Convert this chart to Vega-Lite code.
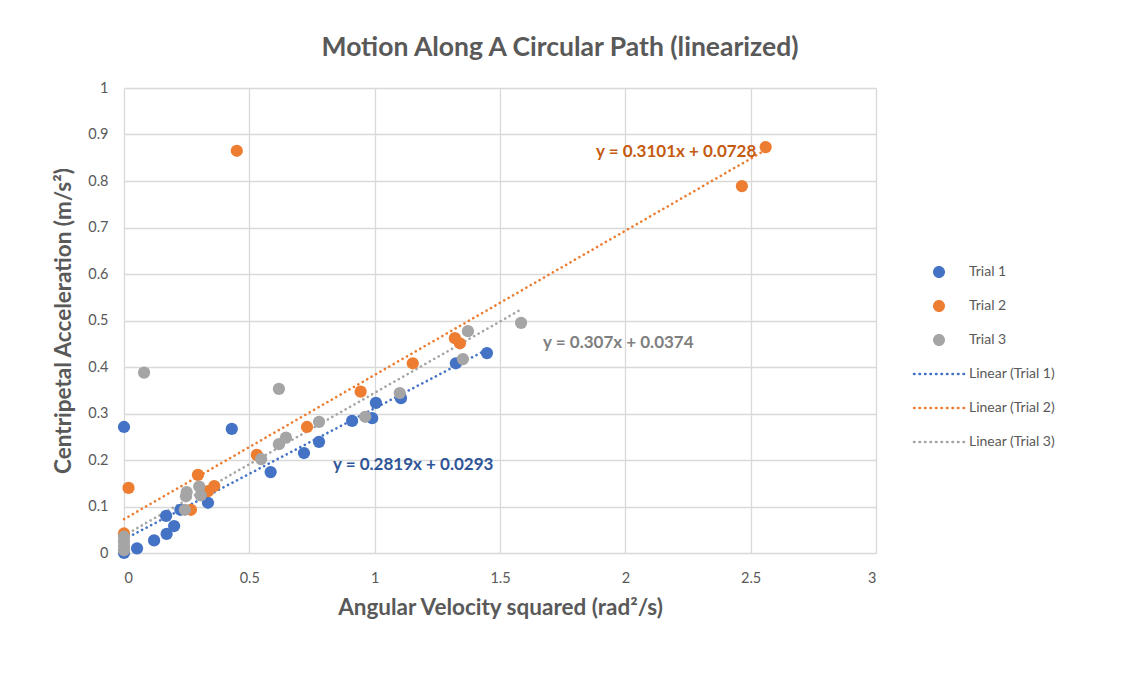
{
  "$schema": "https://vega.github.io/schema/vega-lite/v6.json",
  "width": 752,
  "height": 465,
  "autosize": {"type": "none"},
  "padding": {"left": 124, "top": 88, "right": 264, "bottom": 131},
  "background": "white",
  "title": {
    "text": "Motion Along A Circular Path (linearized)",
    "font": "Lato",
    "fontSize": 26.5,
    "fontWeight": "bold",
    "color": "#595959",
    "anchor": "middle",
    "dx": 60,
    "offset": 19
  },
  "config": {
    "font": "Lato",
    "view": {"stroke": null},
    "axis": {
      "labelFont": "Lato",
      "labelFontSize": 14.5,
      "labelColor": "#595959",
      "titleFont": "Lato",
      "titleFontSize": 22.5,
      "titleFontWeight": "bold",
      "titleColor": "#595959",
      "gridColor": "#D9D9D9",
      "gridWidth": 1.3,
      "domain": false,
      "ticks": false
    },
    "legend": {
      "orient": "none",
      "legendX": 808,
      "legendY": 177,
      "labelFont": "Lato",
      "labelFontSize": 14,
      "labelColor": "#595959",
      "symbolSize": 2500,
      "rowPadding": 20,
      "labelOffset": 23,
      "symbolType": "stroke",
      "symbolStrokeWidth": 2.6,
      "symbolDash": [0.5, 5],
      "symbolOpacity": 1
    }
  },
  "datasets": {
    "points": [
      {"series": "Trial 1", "x": 0, "y": 0.271},
      {"series": "Trial 1", "x": 0.0, "y": 0.0},
      {"series": "Trial 1", "x": 0.052, "y": 0.01},
      {"series": "Trial 1", "x": 0.12, "y": 0.027},
      {"series": "Trial 1", "x": 0.17, "y": 0.041},
      {"series": "Trial 1", "x": 0.168, "y": 0.08},
      {"series": "Trial 1", "x": 0.2, "y": 0.058},
      {"series": "Trial 1", "x": 0.225, "y": 0.093},
      {"series": "Trial 1", "x": 0.335, "y": 0.108},
      {"series": "Trial 1", "x": 0.43, "y": 0.267},
      {"series": "Trial 1", "x": 0.585, "y": 0.174},
      {"series": "Trial 1", "x": 0.718, "y": 0.215},
      {"series": "Trial 1", "x": 0.778, "y": 0.239},
      {"series": "Trial 1", "x": 0.91, "y": 0.284},
      {"series": "Trial 1", "x": 0.99, "y": 0.29},
      {"series": "Trial 1", "x": 1.005, "y": 0.323},
      {"series": "Trial 1", "x": 1.105, "y": 0.333},
      {"series": "Trial 1", "x": 1.324, "y": 0.408},
      {"series": "Trial 1", "x": 1.448, "y": 0.43},
      {"series": "Trial 2", "x": 0, "y": 0.042},
      {"series": "Trial 2", "x": 0.018, "y": 0.14},
      {"series": "Trial 2", "x": 0.267, "y": 0.093},
      {"series": "Trial 2", "x": 0.295, "y": 0.168},
      {"series": "Trial 2", "x": 0.335, "y": 0.133},
      {"series": "Trial 2", "x": 0.36, "y": 0.144},
      {"series": "Trial 2", "x": 0.45, "y": 0.865},
      {"series": "Trial 2", "x": 0.53, "y": 0.211},
      {"series": "Trial 2", "x": 0.73, "y": 0.271},
      {"series": "Trial 2", "x": 0.944, "y": 0.347},
      {"series": "Trial 2", "x": 1.152, "y": 0.408},
      {"series": "Trial 2", "x": 1.32, "y": 0.462},
      {"series": "Trial 2", "x": 1.34, "y": 0.451},
      {"series": "Trial 2", "x": 2.465, "y": 0.789},
      {"series": "Trial 2", "x": 2.56, "y": 0.873},
      {"series": "Trial 3", "x": 0, "y": 0.035},
      {"series": "Trial 3", "x": 0, "y": 0.025},
      {"series": "Trial 3", "x": 0, "y": 0.015},
      {"series": "Trial 3", "x": 0, "y": 0.006},
      {"series": "Trial 3", "x": 0.08, "y": 0.388},
      {"series": "Trial 3", "x": 0.243, "y": 0.093},
      {"series": "Trial 3", "x": 0.247, "y": 0.122},
      {"series": "Trial 3", "x": 0.25, "y": 0.131},
      {"series": "Trial 3", "x": 0.3, "y": 0.143},
      {"series": "Trial 3", "x": 0.306, "y": 0.124},
      {"series": "Trial 3", "x": 0.547, "y": 0.202},
      {"series": "Trial 3", "x": 0.618, "y": 0.353},
      {"series": "Trial 3", "x": 0.618, "y": 0.234},
      {"series": "Trial 3", "x": 0.646, "y": 0.248},
      {"series": "Trial 3", "x": 0.778, "y": 0.282},
      {"series": "Trial 3", "x": 0.962, "y": 0.293},
      {"series": "Trial 3", "x": 1.1, "y": 0.344},
      {"series": "Trial 3", "x": 1.352, "y": 0.417},
      {"series": "Trial 3", "x": 1.372, "y": 0.477},
      {"series": "Trial 3", "x": 1.584, "y": 0.495}
    ],
    "trends": [
      {"series": "Linear (Trial 1)", "x": 0, "y": 0.0293},
      {"series": "Linear (Trial 1)", "x": 1.448, "y": 0.4375},
      {"series": "Linear (Trial 2)", "x": 0, "y": 0.0728},
      {"series": "Linear (Trial 2)", "x": 2.56, "y": 0.8667},
      {"series": "Linear (Trial 3)", "x": 0, "y": 0.0374},
      {"series": "Linear (Trial 3)", "x": 1.584, "y": 0.5237}
    ],
    "labels": [
      {"series": "Linear (Trial 1)", "x": 0.834, "y": 0.189, "text": "y = 0.2819x + 0.0293"},
      {"series": "Linear (Trial 2)", "x": 1.883, "y": 0.862, "text": "y = 0.3101x + 0.0728"},
      {"series": "Linear (Trial 3)", "x": 1.672, "y": 0.452, "text": "y = 0.307x + 0.0374"}
    ]
  },
  "encoding": {
    "x": {
      "field": "x",
      "type": "quantitative",
      "scale": {"domain": [0, 3], "nice": false, "zero": false},
      "axis": {
        "title": "Angular Velocity squared (rad²/s)",
        "values": [0, 0.5, 1, 1.5, 2, 2.5, 3],
        "format": "~g",
        "labelPadding": 18,
        "titlePadding": 12
      }
    },
    "y": {
      "field": "y",
      "type": "quantitative",
      "scale": {"domain": [0, 1], "nice": false, "zero": false},
      "axis": {
        "title": "Centripetal Acceleration (m/s²)",
        "values": [0, 0.1, 0.2, 0.3, 0.4, 0.5, 0.6, 0.7, 0.8, 0.9, 1],
        "format": "~g",
        "labelPadding": 16,
        "titlePadding": 12
      }
    }
  },
  "layer": [
    {
      "data": {"name": "trends"},
      "mark": {"type": "line", "strokeWidth": 2.6, "strokeDash": [0.1, 5], "strokeCap": "round"},
      "encoding": {
        "color": {
          "field": "series",
          "type": "nominal",
          "scale": {
            "domain": ["Trial 1", "Trial 2", "Trial 3", "Linear (Trial 1)", "Linear (Trial 2)", "Linear (Trial 3)"],
            "range": ["#4472C4", "#ED7D31", "#A5A5A5", "#4472C4", "#ED7D31", "#A5A5A5"]
          },
          "legend": {
            "title": null,
            "orient": "none",
            "legendX": 808,
            "legendY": 177,
            "labelFontSize": 14,
            "symbolSize": 2500,
            "rowPadding": 20,
            "labelOffset": 23,
            "encode": {
              "symbols": {
                "update": {
                  "shape": {"signal": "indexof('' + datum.value, 'Linear') == 0 ? 'stroke' : 'M-0.24,0A0.24,0.24,0,1,0,0.24,0A0.24,0.24,0,1,0,-0.24,0Z'"},
                  "fill": {"signal": "indexof('' + datum.value, 'Linear') == 0 ? 'transparent' : scale('color', datum.value)"},
                  "stroke": {"signal": "scale('color', datum.value)"},
                  "strokeWidth": {"signal": "indexof('' + datum.value, 'Linear') == 0 ? 2.6 : 0"},
                  "strokeCap": {"value": "round"},
                  "opacity": {"value": 1}
                }
              }
            }
          }
        }
      }
    },
    {
      "data": {"name": "points"},
      "mark": {"type": "circle", "size": 150, "opacity": 1},
      "encoding": {
        "color": {"field": "series", "type": "nominal"}
      }
    },
    {
      "data": {"name": "labels"},
      "mark": {"type": "text", "align": "left", "baseline": "middle", "font": "Lato", "fontSize": 17, "fontWeight": "bold"},
      "encoding": {
        "text": {"field": "text"},
        "fill": {
          "field": "series",
          "type": "nominal",
          "scale": {
            "domain": ["Linear (Trial 1)", "Linear (Trial 2)", "Linear (Trial 3)"],
            "range": ["#2F5597", "#C55A11", "#7F7F7F"]
          },
          "legend": null
        }
      }
    }
  ]
}
